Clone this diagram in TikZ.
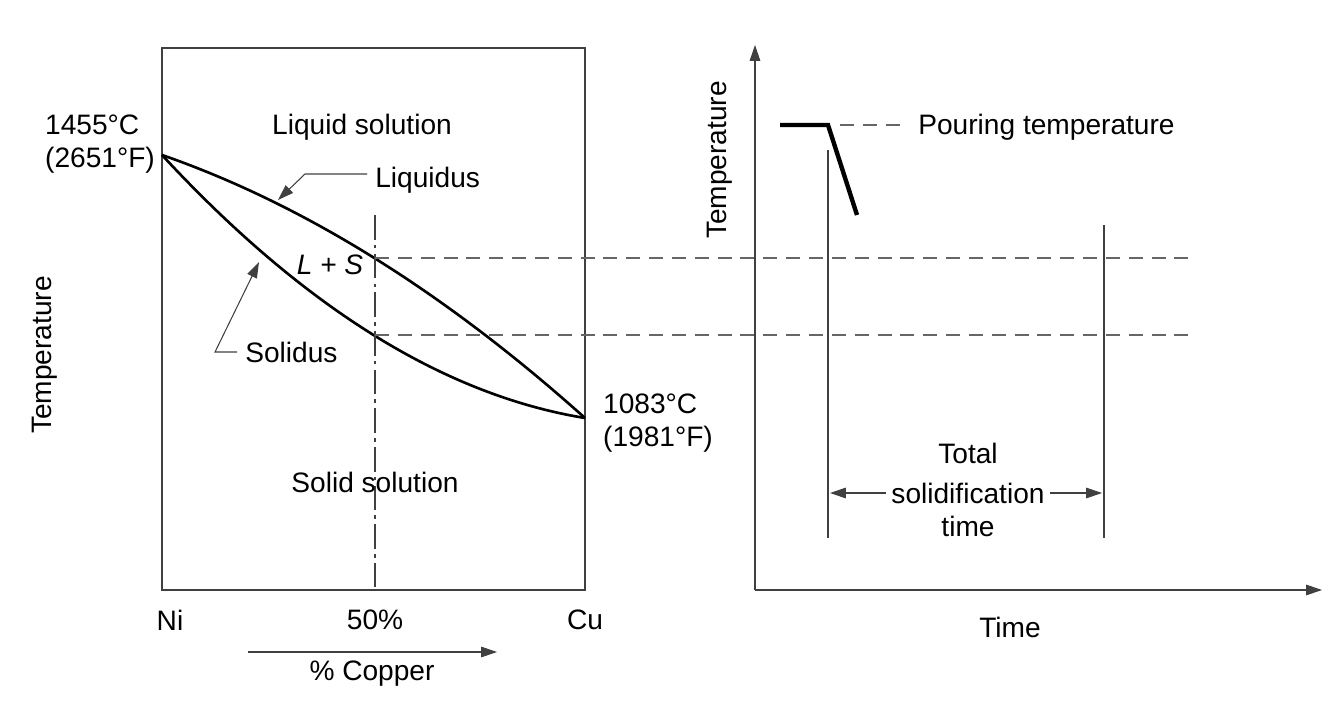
\documentclass[tikz,border=0pt]{standalone}
\usepackage{fontspec}
\setmainfont{Liberation Sans}
\usetikzlibrary{arrows.meta}
\begin{document}
\begin{tikzpicture}[x=0.02cm,y=-0.02cm,
  lbl/.style={font=\fontsize{16}{19}\selectfont, inner sep=0pt},
  thin/.style={line width=0.6pt, black!75},
  curve/.style={line width=1.5pt},
  dsh/.style={line width=0.6pt, black!60, dash pattern=on 8pt off 5pt},
  arr/.style={-{Triangle[length=9pt,width=6pt]}}]
\useasboundingbox (0,0) rectangle (1344,702);
% left box
\draw[thin] (162,48) rectangle (585,590);
\coordinate (ni) at (162,155); \coordinate (cu) at (585,418);
\draw[curve] (ni) .. controls (303,204) and (444,291.7) .. (cu);
\draw[curve] (ni) .. controls (303,307.3) and (444,395) .. (cu);
\draw[thin, dash pattern=on 14pt off 3pt on 2pt off 3pt] (375,215) -- (375,590);
\node[lbl] (liq) at (362,127) {Liquid solution};
\node[lbl] (sol) at (375,482) {Solid solution};
\node[lbl,font=\fontsize{16}{19}\selectfont\itshape] (ls) at (330,265) {L + S};
\node[lbl,anchor=west] (liqd) at (375,180) {Liquidus};
\node[lbl,anchor=west] (sold) at (245,352) {Solidus};
\coordinate (la) at (278,200); \coordinate (sa) at (259,262);
\draw[thin,arr] (liqd.west) ++(-8,-6) -- (305,174) -- (la);
\draw[thin,arr] (sold.west) ++(-8,0) -- (215,352) -- (sa);
\node[lbl,align=left] (t1) at (100,144) {1455°C\\[0pt](2651°F)};
\node[lbl,align=left] (t2) at (658,423) {1083°C\\[0pt](1981°F)};
\node[lbl,rotate=90] (tl) at (45,355) {Temperature};
\node[lbl] (ni) at (170,620) {Ni};
\node[lbl] (fp) at (375,620) {50\%};
\node[lbl] (cun) at (585,620) {Cu};
\coordinate (ca) at (248,652); \coordinate (cb) at (497,652);
\draw[thin,arr] (ca) -- (cb);
\node[lbl] (pc) at (372,674) {\% Copper};
% dashed horizontals
\draw[dsh] (375,258) -- (1195,258);
\draw[dsh] (375,335) -- (1195,335);
% right axes
\coordinate (o) at (755,590);
\draw[thin,arr] (o) -- (755,45);
\draw[thin,arr] (o) -- (1322,590);
\node[lbl,rotate=90] (tr) at (720,160) {Temperature};
\node[lbl] (tm) at (1010,627) {Time};
\draw[line width=2.5pt] (780,125) -- (828,125) -- (857,215);
\draw[dsh] (840,125) -- (905,125);
\node[lbl,anchor=west] (pt) at (918,127) {Pouring temperature};
\draw[thin] (828,150) -- (828,538);
\draw[thin] (1104,225) -- (1104,538);
\node[lbl,align=center] (tot) at (968,490) {Total\\[4pt]solidification\\[0pt]time};
\coordinate (p1) at (830,493); \coordinate (p2) at (1102,493);
\draw[thin,arr] (886,493) -- (p1);
\draw[thin,arr] (1050,493) -- (p2);
\end{tikzpicture}
\end{document}
